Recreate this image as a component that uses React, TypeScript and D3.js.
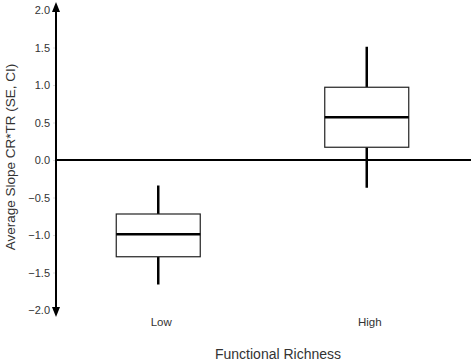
import * as d3 from "d3";
import { useEffect, useRef } from "react";

// chart size and plot frame
const width = 474;
const height = 363;
const axisX = 56;
const plotTop = 10;
const plotBottom = 310;
const plotRight = 471;

// data
const categories = ["Low", "High"];
const whiskerLow = [-1.66, -0.37];
const boxLow = [-1.29, 0.17];
const medians = [-0.99, 0.57];
const boxHigh = [-0.72, 0.97];
const whiskerHigh = [-0.34, 1.51];
const yTicks = [2.0, 1.5, 1.0, 0.5, 0.0, -0.5, -1.0, -1.5, -2.0];

const font = "'Liberation Sans', Arial, sans-serif";

const App = () => {
  const ref = useRef<SVGSVGElement | null>(null);

  useEffect(() => {
    const svg = d3.select(ref.current);
    svg.selectAll("*").remove();

    const y = d3.scaleLinear().domain([-2, 2]).range([plotBottom, plotTop]);
    const x = d3
      .scaleBand()
      .domain(categories)
      .range([axisX - 2, plotRight])
      .paddingInner(0.0)
      .paddingOuter(0.0);

    // y axis with tick labels
    const yAxis = d3
      .axisLeft(y)
      .tickValues(yTicks)
      .tickSize(3)
      .tickPadding(3)
      .tickFormat(d3.format(".1f"));
    const gy = svg
      .append("g")
      .attr("transform", `translate(${axisX},0)`)
      .call(yAxis);
    gy.select(".domain").remove();
    gy.selectAll("line").attr("stroke", "#bbb").attr("stroke-width", 0.5);
    gy.selectAll("text")
      .attr("font-family", font)
      .attr("font-size", 11)
      .attr("fill", "#333");

    // main vertical axis with arrows on both ends
    const defs = svg.append("defs");
    defs
      .append("marker")
      .attr("id", "arr")
      .attr("viewBox", "0 0 10 10")
      .attr("refX", 5)
      .attr("refY", 5)
      .attr("markerWidth", 5)
      .attr("markerHeight", 5)
      .attr("orient", "auto-start-reverse")
      .append("path")
      .attr("d", "M0,1 L10,5 L0,9 z")
      .attr("fill", "#000");

    svg
      .append("line")
      .attr("x1", axisX)
      .attr("x2", axisX)
      .attr("y1", y(-2) + 2)
      .attr("y2", y(2) - 3)
      .attr("stroke", "#000")
      .attr("stroke-width", 2)
      .attr("marker-start", "url(#arr)")
      .attr("marker-end", "url(#arr)");

    // zero line
    svg
      .append("line")
      .attr("x1", axisX)
      .attr("x2", plotRight)
      .attr("y1", y(0))
      .attr("y2", y(0))
      .attr("stroke", "#000")
      .attr("stroke-width", 2);

    const boxW = 84;
    const cx = (c: string) => (x(c) ?? 0) + x.bandwidth() / 2;

    categories.forEach((c, i) => {
      const g = svg.append("g");
      const xc = cx(c);
      // whiskers
      g.append("line")
        .attr("x1", xc)
        .attr("x2", xc)
        .attr("y1", y(whiskerHigh[i]))
        .attr("y2", y(boxHigh[i]))
        .attr("stroke", "#000")
        .attr("stroke-width", 2.5);
      g.append("line")
        .attr("x1", xc)
        .attr("x2", xc)
        .attr("y1", y(boxLow[i]))
        .attr("y2", y(whiskerLow[i]))
        .attr("stroke", "#000")
        .attr("stroke-width", 2.5);
      // box
      g.append("rect")
        .attr("x", xc - boxW / 2)
        .attr("y", y(boxHigh[i]))
        .attr("width", boxW)
        .attr("height", y(boxLow[i]) - y(boxHigh[i]))
        .attr("fill", "#fff")
        .attr("stroke", "#222")
        .attr("stroke-width", 1.2);
      // median
      g.append("line")
        .attr("x1", xc - boxW / 2)
        .attr("x2", xc + boxW / 2)
        .attr("y1", y(medians[i]))
        .attr("y2", y(medians[i]))
        .attr("stroke", "#000")
        .attr("stroke-width", 2.5);
      // category label
      g.append("text")
        .attr("x", xc + 3)
        .attr("y", 326)
        .attr("text-anchor", "middle")
        .attr("font-family", font)
        .attr("font-size", 11.5)
        .attr("fill", "#333")
        .text(c);
    });

    // axis titles
    svg
      .append("text")
      .attr("x", 278)
      .attr("y", 359)
      .attr("text-anchor", "middle")
      .attr("font-family", font)
      .attr("font-size", 14)
      .attr("fill", "#333")
      .text("Functional Richness");

    svg
      .append("text")
      .attr("transform", `translate(15,157) rotate(-90)`)
      .attr("text-anchor", "middle")
      .attr("font-family", font)
      .attr("font-size", 13.5)
      .attr("fill", "#333")
      .text("Average Slope CR*TR (SE, CI)");
  }, []);

  return (
    <svg
      ref={ref}
      width={width}
      height={height}
      style={{ position: "absolute", left: 0, top: 0, background: "#fff" }}
    />
  );
};

export default App;
